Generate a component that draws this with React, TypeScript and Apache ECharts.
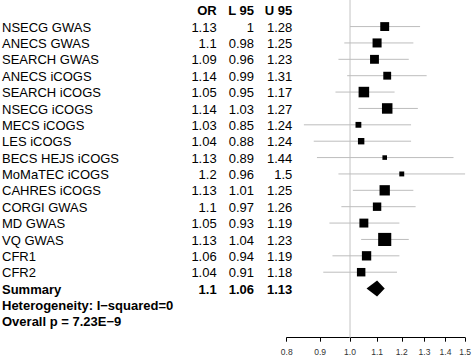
import React, { useEffect, useRef } from "react";
import * as echarts from "echarts";

const studies = [
  "NSECG GWAS", "ANECS GWAS", "SEARCH GWAS", "ANECS iCOGS", "SEARCH iCOGS",
  "NSECG iCOGS", "MECS iCOGS", "LES iCOGS", "BECS HEJS iCOGS", "MoMaTEC iCOGS",
  "CAHRES iCOGS", "CORGI GWAS", "MD GWAS", "VQ GWAS", "CFR1", "CFR2",
];
const oddsRatio = [1.13, 1.1, 1.09, 1.14, 1.05, 1.14, 1.03, 1.04, 1.13, 1.2, 1.13, 1.1, 1.05, 1.13, 1.06, 1.04];
const lower95 = [1, 0.98, 0.96, 0.99, 0.95, 1.03, 0.85, 0.88, 0.89, 0.96, 1.01, 0.97, 0.93, 1.04, 0.94, 0.91];
const upper95 = [1.28, 1.25, 1.23, 1.31, 1.17, 1.27, 1.24, 1.24, 1.44, 1.5, 1.25, 1.26, 1.19, 1.23, 1.19, 1.18];
const summaryLabel = "Summary";
const summaryValues = [1.1, 1.06, 1.13];
const headers = ["OR", "L 95", "U 95"];
const footnotes = ["Heterogeneity: I\u2212squared=0", "Overall p = 7.23E\u22129"];
const tickValues = [0.8, 0.9, 1.0, 1.1, 1.2, 1.3, 1.4, 1.5];

const FONT = '"Liberation Sans", Arial, Helvetica, sans-serif';

export default function App() {
  const ref = useRef<HTMLDivElement>(null);
  useEffect(() => {
    if (!ref.current) return;
    const chart = echarts.init(ref.current, null, { renderer: "svg" });

    // rows: 0 header, 1..16 studies, 17 summary, 18..19 footnotes
    type Row = { label: string; vals: (number | string)[]; bold: boolean };
    const rows: Row[] = [];
    rows.push({ label: "", vals: headers, bold: true });
    studies.forEach((s, i) => rows.push({ label: s, vals: [oddsRatio[i], lower95[i], upper95[i]], bold: false }));
    rows.push({ label: summaryLabel, vals: summaryValues, bold: true });
    footnotes.forEach((f) => rows.push({ label: f, vals: [], bold: true }));

    const colRight = [216.7, 254, 292.3];

    const studyData = studies.map((_, i) => [Math.log(oddsRatio[i]), i + 1, Math.log(lower95[i]), Math.log(upper95[i])]);
    const summaryRow = studies.length + 1;

    const option: any = {
      animation: false,
      grid: { left: 286.7, right: 7.3, top: 10.2, bottom: 19.3 },
      xAxis: {
        type: "value",
        position: "bottom",
        min: Math.log(0.8),
        max: Math.log(1.5),
        splitLine: { show: false },
        axisLine: { show: true, onZero: false, lineStyle: { color: "#000", width: 1 } },
        axisTick: {
          show: true,
          length: 4,
          inside: false,
          lineStyle: { color: "#000", width: 1 },
          customValues: tickValues.map((v) => Math.log(v)),
        },
        axisLabel: {
          show: true,
          fontSize: 8.5,
          fontFamily: FONT,
          color: "#333",
          margin: 9.5,
          customValues: tickValues.map((v) => Math.log(v)),
          formatter: (v: number) => Math.exp(v).toFixed(1),
        },
      },
      yAxis: { type: "value", min: 0, max: 20, inverse: true, show: false },
      series: [
        {
          type: "custom",
          name: "ref",
          clip: false,
          silent: true,
          data: [[0, 0]],
          renderItem: (params: any, api: any) => {
            const a = api.coord([0, -0.63]);
            const b = api.coord([0, 20]);
            return {
              type: "line",
              shape: { x1: a[0], y1: a[1], x2: b[0], y2: b[1] },
              style: { stroke: "#c4c4c4", lineWidth: 1 },
            };
          },
        },
        {
          type: "custom",
          name: "studies",
          clip: false,
          silent: true,
          data: studyData,
          renderItem: (params: any, api: any) => {
            const x = api.value(0);
            const y = api.value(1);
            const lo = api.value(2);
            const hi = api.value(3);
            const c = api.coord([x, y]);
            const l = api.coord([lo, y]);
            const h = api.coord([hi, y]);
            const size = 2.2 / (hi - lo);
            return {
              type: "group",
              children: [
                {
                  type: "line",
                  shape: { x1: l[0], y1: l[1], x2: h[0], y2: h[1] },
                  style: { stroke: "#bdbdbd", lineWidth: 1 },
                },
                {
                  type: "rect",
                  shape: { x: c[0] - size / 2, y: c[1] - size / 2, width: size, height: size },
                  style: { fill: "#000" },
                },
              ],
            };
          },
        },
        {
          type: "custom",
          name: "summary",
          clip: false,
          silent: true,
          data: [[Math.log(summaryValues[0]), summaryRow, Math.log(summaryValues[1]), Math.log(summaryValues[2])]],
          renderItem: (params: any, api: any) => {
            const y = api.value(1);
            const c = api.coord([api.value(0), y]);
            const l = api.coord([api.value(2), y]);
            const h = api.coord([api.value(3), y]);
            const hh = 8;
            return {
              type: "polygon",
              shape: { points: [[l[0], c[1]], [c[0], c[1] - hh], [h[0], c[1]], [c[0], c[1] + hh]] },
              style: { fill: "#000" },
            };
          },
        },
        {
          type: "custom",
          name: "table",
          clip: false,
          silent: true,
          data: rows.map((_, i) => [0, i]),
          renderItem: (params: any, api: any) => {
            const i = params.dataIndex;
            const row = rows[i];
            const y = api.coord([0, api.value(1)])[1] + 0.6;
            const base = {
              fontSize: 13,
              fontFamily: FONT,
              fontWeight: row.bold ? "bold" : "normal",
              fill: "#000",
              verticalAlign: "middle",
            };
            const children: any[] = [];
            if (row.label) {
              children.push({
                type: "text",
                x: 2,
                y,
                style: { ...base, text: row.label, align: "left" },
              });
            }
            row.vals.forEach((v, k) => {
              children.push({
                type: "text",
                x: colRight[k],
                y,
                style: { ...base, text: String(v), align: "right" },
              });
            });
            return { type: "group", children };
          },
        },
      ],
    };
    chart.setOption(option);
    return () => chart.dispose();
  }, []);
  return (
    <div
      ref={ref}
      style={{ position: "fixed", left: 0, top: 0, width: 474, height: 357, background: "#fff" }}
    />
  );
}
